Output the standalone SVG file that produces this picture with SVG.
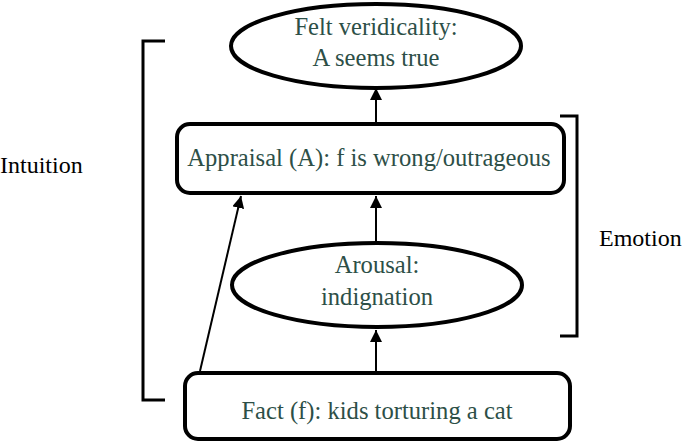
<svg xmlns="http://www.w3.org/2000/svg" width="685" height="441" viewBox="0 0 685 441">
<defs>
<style>
.n{fill:#fff;stroke:#000;stroke-width:4}
.t{font-family:'Liberation Serif','Times New Roman','DejaVu Serif',serif;font-size:24.6px;fill:#2d4f47;text-anchor:middle}
.l{font-family:'Liberation Serif','Times New Roman','DejaVu Serif',serif;font-size:24px;fill:#000}
.c{stroke:#000;stroke-width:2;fill:none}
.b{stroke:#000;stroke-width:3;fill:none}
</style>
<marker id="a" viewBox="0 0 10 10" refX="10" refY="5" markerWidth="6" markerHeight="6" orient="auto">
<path d="M0,0L10,5L0,10z" fill="#000"/>
</marker>
</defs>
<g id="brackets">
<path class="b" d="M165,41H143V400H165"/>
<path class="b" d="M560,116H577V336H560"/>
</g>
<g id="connectors">
<line class="c" x1="376" y1="123" x2="376" y2="88" marker-end="url(#a)"/>
<line class="c" x1="376" y1="242" x2="376" y2="196" marker-end="url(#a)"/>
<line class="c" x1="376" y1="372" x2="376" y2="330" marker-end="url(#a)"/>
<line class="c" x1="200" y1="371" x2="241" y2="196" marker-end="url(#a)"/>
</g>
<g id="felt">
<ellipse class="n" cx="376" cy="46" rx="145" ry="42"/>
<text class="t" x="376" y="35">Felt veridicality:</text>
<text class="t" x="376" y="66">A seems true</text>
</g>
<g id="appraisal">
<rect class="n" x="177" y="124" width="387" height="69" rx="13"/>
<text class="t" x="369" y="166">Appraisal (A): f is wrong/outrageous</text>
</g>
<g id="arousal">
<ellipse class="n" cx="377" cy="285" rx="145" ry="42"/>
<text class="t" x="377" y="273">Arousal:</text>
<text class="t" x="377" y="305">indignation</text>
</g>
<g id="fact">
<rect class="n" x="185" y="373" width="385" height="66" rx="13"/>
<text class="t" x="377" y="419">Fact (f): kids torturing a cat</text>
</g>
<text class="l" x="0" y="173">Intuition</text>
<text class="l" x="599" y="246">Emotion</text>
</svg>
